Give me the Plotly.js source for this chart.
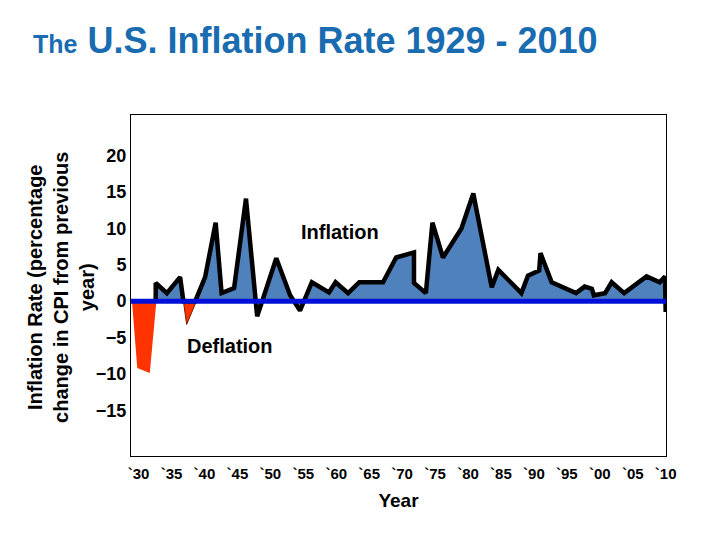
<!DOCTYPE html>
<html>
<head>
<meta charset="utf-8">
<script src="https://cdn.plot.ly/plotly-3.0.1.min.js"></script>
<style>
  html, body { margin: 0; padding: 0; background: #ffffff; }
  #chart { width: 720px; height: 540px; }
</style>
</head>
<body>
<div id="chart"></div>
<script>
// Annual inflation rate, traced as a freeform outline (years may be fractional)
const inflationYears = [1932.6, 1932.6, 1934.3, 1936.3, 1936.8, 1938.6, 1940.1, 1941.7, 1942.6, 1944.5,
  1946.3, 1948.0, 1950.9, 1953.0, 1954.5, 1956.3, 1958.9, 1959.9, 1961.8, 1963.5,
  1967.1, 1969.1, 1971.8, 1971.8, 1973.6, 1974.6, 1976.2, 1979.0, 1980.8, 1983.6,
  1984.6, 1988.1, 1989.1, 1990.8, 1991.0, 1992.7, 1996.4, 1997.7, 1998.8, 1999.1,
  2000.8, 2001.8, 2003.7, 2007.1, 2009.1, 2009.9, 2010.0];
const inflationRates = [0, 2.5, 1.1, 3.3, 0, 0, 3.3, 10.8, 1.1, 1.8,
  14.1, -2.1, 5.9, 0.8, -1.3, 2.6, 1.2, 2.6, 1.1, 2.6,
  2.6, 6.0, 6.7, 2.5, 1.1, 10.8, 6.0, 10.0, 14.8, 1.9,
  4.3, 1.1, 3.5, 4.2, 6.6, 2.6, 1.1, 2.0, 1.7, 0.8,
  1.1, 2.6, 1.1, 3.4, 2.6, 3.4, -1.5];

// Deflation episodes (negative rates)
const depressionYears = [1929.0, 1929.8, 1931.7, 1932.7, 1932.7];
const depressionRates = [0, -9.2, -9.9, -0.5, 0];
const recessionYears = [1936.8, 1937.3, 1938.6, 1938.6];
const recessionRates = [0, -3.2, -0.4, 0];

// Axis ticks
const yearTicks = [1930, 1935, 1940, 1945, 1950, 1955, 1960, 1965, 1970, 1975, 1980, 1985, 1990, 1995, 2000, 2005, 2010];
const yearTickText = ['`30', '`35', '`40', '`45', '`50', '`55', '`60', '`65', '`70', '`75', '`80', '`85', '`90', '`95', '`00', '`05', '`10'];
const rateTicks = [-15, -10, -5, 0, 5, 10, 15, 20];

const boldFont = 'Liberation Sans, Arial, sans-serif';
const RED = '#ff3300';
const BLUE_FILL = '#4f81bd';

const traces = [
  {
    x: depressionYears, y: depressionRates, type: 'scatter', mode: 'lines',
    fill: 'tozeroy', fillcolor: RED, line: { width: 0, color: RED },
    hoverinfo: 'skip', showlegend: false
  },
  {
    x: recessionYears, y: recessionRates, type: 'scatter', mode: 'lines',
    fill: 'tozeroy', fillcolor: RED, line: { width: 1, color: '#7a1a00' },
    hoverinfo: 'skip', showlegend: false
  },
  {
    x: inflationYears, y: inflationRates, type: 'scatter', mode: 'lines',
    fill: 'tozeroy', fillcolor: BLUE_FILL,
    line: { width: 4.5, color: '#000000' },
    showlegend: false
  }
];

const layout = {
  width: 720, height: 540,
  paper_bgcolor: '#ffffff', plot_bgcolor: '#ffffff',
  margin: { l: 131, r: 54, t: 115, b: 84 },
  showlegend: false,
  title: {
    text: '<span style="font-size:25px">The</span> U.S. Inflation Rate 1929 - 2010',
    font: { family: boldFont, size: 36, color: '#1a6cb0', weight: 'bold' },
    xref: 'container', x: 33 / 720, xanchor: 'left',
    yref: 'container', y: 1 - 28 / 540, yanchor: 'top'
  },
  xaxis: {
    range: [1928.85, 2010.05],
    tickmode: 'array', tickvals: yearTicks, ticktext: yearTickText,
    ticks: 'outside', ticklen: 4, tickcolor: 'rgba(0,0,0,0)',
    tickfont: { family: boldFont, size: 15, color: '#000000', weight: 'bold' },
    showgrid: false, zeroline: false,
    showline: true, linecolor: '#000000', linewidth: 1, mirror: true,
    title: { text: 'Year', font: { family: boldFont, size: 19, color: '#000000', weight: 'bold' }, standoff: 12 },
    automargin: false
  },
  yaxis: {
    range: [-21.3, 25.6],
    tickmode: 'array', tickvals: rateTicks,
    ticks: '', ticklabelstandoff: 0,
    tickfont: { family: boldFont, size: 18, color: '#000000', weight: 'bold' },
    showgrid: false, zeroline: false,
    showline: true, linecolor: '#000000', linewidth: 1, mirror: true,
    automargin: false
  },
  shapes: [
    {
      type: 'line', layer: 'above', xref: 'paper', yref: 'y',
      x0: 0, x1: 1, y0: 0, y1: 0,
      line: { color: '#0010d8', width: 5 }
    }
  ],
  annotations: [
    {
      text: 'Inflation Rate (percentage<br>change in CPI from previous<br>year)',
      xref: 'paper', yref: 'paper', x: (61 - 131) / 535, y: 0.493,
      xanchor: 'center', yanchor: 'middle', textangle: -90, showarrow: false,
      font: { family: boldFont, size: 20, color: '#000000', weight: 'bold' }
    },
    {
      text: 'Inflation', xref: 'x', yref: 'y', x: 1960.6, y: 9.5,
      showarrow: false, font: { family: boldFont, size: 20, color: '#000000', weight: 'bold' }
    },
    {
      text: 'Deflation', xref: 'x', yref: 'y', x: 1943.9, y: -6.2,
      showarrow: false, font: { family: boldFont, size: 20, color: '#000000', weight: 'bold' }
    }
  ]
};

Plotly.newPlot('chart', traces, layout, { staticPlot: true, displayModeBar: false });
</script>
</body>
</html>
